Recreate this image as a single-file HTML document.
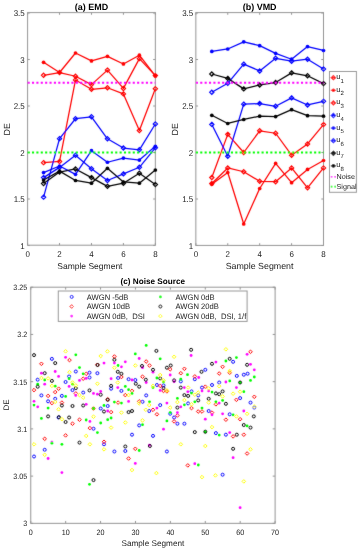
<!DOCTYPE html><html><head><meta charset="utf-8"><style>html,body{margin:0;padding:0;background:#fff;width:359px;height:550px;overflow:hidden}svg{display:block}text{font-family:'Liberation Sans', Arial, sans-serif;fill:#1c1c1c;text-rendering:geometricPrecision}</style></head><body>
<svg width="359" height="550" viewBox="0 0 359 550">
<defs><filter id="bl" filterUnits="userSpaceOnUse" x="0" y="0" width="359" height="550"><feConvolveMatrix order="3" kernelMatrix="0.015 0.06 0.015 0.06 0.70 0.06 0.015 0.06 0.015" edgeMode="duplicate" preserveAlpha="false"/></filter></defs>
<rect width="359" height="550" fill="#fff"/>
<g filter="url(#bl)">
<rect x="27.6" y="12.6" width="127.75" height="232.60" fill="none" stroke="#959595" stroke-width="1.0"/>
<path d="M27.60 245.2v-2.2M27.60 12.6v2.2M59.54 245.2v-2.2M59.54 12.6v2.2M91.47 245.2v-2.2M91.47 12.6v2.2M123.41 245.2v-2.2M123.41 12.6v2.2M155.35 245.2v-2.2M155.35 12.6v2.2M27.6 245.50h2.2M155.35 245.50h-2.2M27.6 199.00h2.2M155.35 199.00h-2.2M27.6 152.50h2.2M155.35 152.50h-2.2M27.6 106.00h2.2M155.35 106.00h-2.2M27.6 59.50h2.2M155.35 59.50h-2.2M27.6 13.00h2.2M155.35 13.00h-2.2" stroke="#959595" stroke-width="1" fill="none"/>
<polyline points="43.57,75.31 59.54,72.52 75.51,76.24 91.47,84.61 107.44,70.10 123.41,88.42 139.38,58.66 155.35,75.59" fill="none" stroke="#ff0000" stroke-width="1.25" stroke-linejoin="round"/>
<path d="M43.57 73.16L45.72 75.31L43.57 77.46L41.42 75.31Z" fill="none" stroke="#ff0000" stroke-width="1.15"/>
<path d="M59.54 70.37L61.69 72.52L59.54 74.67L57.39 72.52Z" fill="none" stroke="#ff0000" stroke-width="1.15"/>
<path d="M75.51 74.09L77.66 76.24L75.51 78.39L73.36 76.24Z" fill="none" stroke="#ff0000" stroke-width="1.15"/>
<path d="M91.47 82.46L93.62 84.61L91.47 86.76L89.32 84.61Z" fill="none" stroke="#ff0000" stroke-width="1.15"/>
<path d="M107.44 67.95L109.59 70.10L107.44 72.25L105.29 70.10Z" fill="none" stroke="#ff0000" stroke-width="1.15"/>
<path d="M123.41 86.27L125.56 88.42L123.41 90.57L121.26 88.42Z" fill="none" stroke="#ff0000" stroke-width="1.15"/>
<path d="M139.38 56.51L141.53 58.66L139.38 60.81L137.23 58.66Z" fill="none" stroke="#ff0000" stroke-width="1.15"/>
<path d="M155.35 73.44L157.50 75.59L155.35 77.74L153.20 75.59Z" fill="none" stroke="#ff0000" stroke-width="1.15"/>
<polyline points="43.57,62.29 59.54,72.52 75.51,52.99 91.47,60.90 107.44,56.34 123.41,63.96 139.38,55.22 155.35,75.96" fill="none" stroke="#ff0000" stroke-width="1.25" stroke-linejoin="round"/>
<circle cx="43.57" cy="62.29" r="1.85" fill="#ff0000"/>
<circle cx="59.54" cy="72.52" r="1.85" fill="#ff0000"/>
<circle cx="75.51" cy="52.99" r="1.85" fill="#ff0000"/>
<circle cx="91.47" cy="60.90" r="1.85" fill="#ff0000"/>
<circle cx="107.44" cy="56.34" r="1.85" fill="#ff0000"/>
<circle cx="123.41" cy="63.96" r="1.85" fill="#ff0000"/>
<circle cx="139.38" cy="55.22" r="1.85" fill="#ff0000"/>
<circle cx="155.35" cy="75.96" r="1.85" fill="#ff0000"/>
<polyline points="43.57,162.64 59.54,161.43 75.51,79.96 91.47,89.26 107.44,87.77 123.41,93.91 139.38,130.46 155.35,88.79" fill="none" stroke="#ff0000" stroke-width="1.25" stroke-linejoin="round"/>
<path d="M43.57 160.49L45.72 162.64L43.57 164.79L41.42 162.64Z" fill="none" stroke="#ff0000" stroke-width="1.15"/>
<path d="M59.54 159.28L61.69 161.43L59.54 163.58L57.39 161.43Z" fill="none" stroke="#ff0000" stroke-width="1.15"/>
<path d="M75.51 77.81L77.66 79.96L75.51 82.11L73.36 79.96Z" fill="none" stroke="#ff0000" stroke-width="1.15"/>
<path d="M91.47 87.11L93.62 89.26L91.47 91.41L89.32 89.26Z" fill="none" stroke="#ff0000" stroke-width="1.15"/>
<path d="M107.44 85.62L109.59 87.77L107.44 89.92L105.29 87.77Z" fill="none" stroke="#ff0000" stroke-width="1.15"/>
<path d="M123.41 91.76L125.56 93.91L123.41 96.06L121.26 93.91Z" fill="none" stroke="#ff0000" stroke-width="1.15"/>
<path d="M139.38 128.31L141.53 130.46L139.38 132.61L137.23 130.46Z" fill="none" stroke="#ff0000" stroke-width="1.15"/>
<path d="M155.35 86.64L157.50 88.79L155.35 90.94L153.20 88.79Z" fill="none" stroke="#ff0000" stroke-width="1.15"/>
<polyline points="43.57,197.14 59.54,138.64 75.51,118.74 91.47,116.79 107.44,138.83 123.41,148.04 139.38,149.80 155.35,124.04" fill="none" stroke="#0000ff" stroke-width="1.25" stroke-linejoin="round"/>
<path d="M43.57 194.99L45.72 197.14L43.57 199.29L41.42 197.14Z" fill="none" stroke="#0000ff" stroke-width="1.15"/>
<path d="M59.54 136.49L61.69 138.64L59.54 140.79L57.39 138.64Z" fill="none" stroke="#0000ff" stroke-width="1.15"/>
<path d="M75.51 116.59L77.66 118.74L75.51 120.89L73.36 118.74Z" fill="none" stroke="#0000ff" stroke-width="1.15"/>
<path d="M91.47 114.64L93.62 116.79L91.47 118.94L89.32 116.79Z" fill="none" stroke="#0000ff" stroke-width="1.15"/>
<path d="M107.44 136.68L109.59 138.83L107.44 140.98L105.29 138.83Z" fill="none" stroke="#0000ff" stroke-width="1.15"/>
<path d="M123.41 145.89L125.56 148.04L123.41 150.19L121.26 148.04Z" fill="none" stroke="#0000ff" stroke-width="1.15"/>
<path d="M139.38 147.65L141.53 149.80L139.38 151.95L137.23 149.80Z" fill="none" stroke="#0000ff" stroke-width="1.15"/>
<path d="M155.35 121.89L157.50 124.04L155.35 126.19L153.20 124.04Z" fill="none" stroke="#0000ff" stroke-width="1.15"/>
<polyline points="43.57,172.59 59.54,165.99 75.51,174.36 91.47,150.64 107.44,162.26 123.41,158.08 139.38,160.03 155.35,146.27" fill="none" stroke="#0000ff" stroke-width="1.25" stroke-linejoin="round"/>
<circle cx="43.57" cy="172.59" r="1.85" fill="#0000ff"/>
<circle cx="59.54" cy="165.99" r="1.85" fill="#0000ff"/>
<circle cx="75.51" cy="174.36" r="1.85" fill="#0000ff"/>
<circle cx="91.47" cy="150.64" r="1.85" fill="#0000ff"/>
<circle cx="107.44" cy="162.26" r="1.85" fill="#0000ff"/>
<circle cx="123.41" cy="158.08" r="1.85" fill="#0000ff"/>
<circle cx="139.38" cy="160.03" r="1.85" fill="#0000ff"/>
<circle cx="155.35" cy="146.27" r="1.85" fill="#0000ff"/>
<polyline points="43.57,177.61 59.54,167.38 75.51,155.29 91.47,168.78 107.44,180.49 123.41,173.89 139.38,167.29 155.35,147.85" fill="none" stroke="#0000ff" stroke-width="1.25" stroke-linejoin="round"/>
<path d="M43.57 175.46L45.72 177.61L43.57 179.76L41.42 177.61Z" fill="none" stroke="#0000ff" stroke-width="1.15"/>
<path d="M59.54 165.23L61.69 167.38L59.54 169.53L57.39 167.38Z" fill="none" stroke="#0000ff" stroke-width="1.15"/>
<path d="M75.51 153.14L77.66 155.29L75.51 157.44L73.36 155.29Z" fill="none" stroke="#0000ff" stroke-width="1.15"/>
<path d="M91.47 166.62L93.62 168.78L91.47 170.93L89.32 168.78Z" fill="none" stroke="#0000ff" stroke-width="1.15"/>
<path d="M107.44 178.34L109.59 180.49L107.44 182.64L105.29 180.49Z" fill="none" stroke="#0000ff" stroke-width="1.15"/>
<path d="M123.41 171.74L125.56 173.89L123.41 176.04L121.26 173.89Z" fill="none" stroke="#0000ff" stroke-width="1.15"/>
<path d="M139.38 165.14L141.53 167.29L139.38 169.44L137.23 167.29Z" fill="none" stroke="#0000ff" stroke-width="1.15"/>
<path d="M155.35 145.70L157.50 147.85L155.35 150.00L153.20 147.85Z" fill="none" stroke="#0000ff" stroke-width="1.15"/>
<polyline points="43.57,183.56 59.54,172.03 75.51,168.96 91.47,177.61 107.44,186.35 123.41,183.19 139.38,173.24 155.35,184.49" fill="none" stroke="#000000" stroke-width="1.25" stroke-linejoin="round"/>
<path d="M43.57 181.41L45.72 183.56L43.57 185.71L41.42 183.56Z" fill="none" stroke="#000000" stroke-width="1.15"/>
<path d="M59.54 169.88L61.69 172.03L59.54 174.18L57.39 172.03Z" fill="none" stroke="#000000" stroke-width="1.15"/>
<path d="M75.51 166.81L77.66 168.96L75.51 171.11L73.36 168.96Z" fill="none" stroke="#000000" stroke-width="1.15"/>
<path d="M91.47 175.46L93.62 177.61L91.47 179.76L89.32 177.61Z" fill="none" stroke="#000000" stroke-width="1.15"/>
<path d="M107.44 184.20L109.59 186.35L107.44 188.50L105.29 186.35Z" fill="none" stroke="#000000" stroke-width="1.15"/>
<path d="M123.41 181.04L125.56 183.19L123.41 185.34L121.26 183.19Z" fill="none" stroke="#000000" stroke-width="1.15"/>
<path d="M139.38 171.09L141.53 173.24L139.38 175.39L137.23 173.24Z" fill="none" stroke="#000000" stroke-width="1.15"/>
<path d="M155.35 182.34L157.50 184.49L155.35 186.64L153.20 184.49Z" fill="none" stroke="#000000" stroke-width="1.15"/>
<polyline points="43.57,180.03 59.54,171.10 75.51,180.49 91.47,183.19 107.44,168.31 123.41,181.98 139.38,183.19 155.35,170.08" fill="none" stroke="#000000" stroke-width="1.25" stroke-linejoin="round"/>
<circle cx="43.57" cy="180.03" r="1.85" fill="#000000"/>
<circle cx="59.54" cy="171.10" r="1.85" fill="#000000"/>
<circle cx="75.51" cy="180.49" r="1.85" fill="#000000"/>
<circle cx="91.47" cy="183.19" r="1.85" fill="#000000"/>
<circle cx="107.44" cy="168.31" r="1.85" fill="#000000"/>
<circle cx="123.41" cy="181.98" r="1.85" fill="#000000"/>
<circle cx="139.38" cy="183.19" r="1.85" fill="#000000"/>
<circle cx="155.35" cy="170.08" r="1.85" fill="#000000"/>
<line x1="27.6" x2="155.35" y1="82.75" y2="82.75" stroke="#ff00ff" stroke-width="2" stroke-dasharray="2.1 2.28"/>
<line x1="27.6" x2="155.35" y1="152.50" y2="152.50" stroke="#00ff00" stroke-width="2" stroke-dasharray="2.1 2.28"/>
<rect x="195.85" y="12.6" width="127.65" height="232.80" fill="none" stroke="#959595" stroke-width="1.0"/>
<path d="M195.85 245.4v-2.2M195.85 12.6v2.2M227.76 245.4v-2.2M227.76 12.6v2.2M259.68 245.4v-2.2M259.68 12.6v2.2M291.59 245.4v-2.2M291.59 12.6v2.2M323.50 245.4v-2.2M323.50 12.6v2.2M195.85 245.50h2.2M323.5 245.50h-2.2M195.85 199.00h2.2M323.5 199.00h-2.2M195.85 152.50h2.2M323.5 152.50h-2.2M195.85 106.00h2.2M323.5 106.00h-2.2M195.85 59.50h2.2M323.5 59.50h-2.2M195.85 13.00h2.2M323.5 13.00h-2.2" stroke="#959595" stroke-width="1" fill="none"/>
<polyline points="211.81,177.52 227.76,134.37 243.72,152.50 259.68,130.83 275.63,133.25 291.59,155.20 307.54,143.94 323.50,124.60" fill="none" stroke="#ff0000" stroke-width="1.25" stroke-linejoin="round"/>
<path d="M211.81 175.37L213.96 177.52L211.81 179.67L209.66 177.52Z" fill="none" stroke="#ff0000" stroke-width="1.15"/>
<path d="M227.76 132.22L229.91 134.37L227.76 136.52L225.61 134.37Z" fill="none" stroke="#ff0000" stroke-width="1.15"/>
<path d="M243.72 150.35L245.87 152.50L243.72 154.65L241.57 152.50Z" fill="none" stroke="#ff0000" stroke-width="1.15"/>
<path d="M259.68 128.68L261.82 130.83L259.68 132.98L257.53 130.83Z" fill="none" stroke="#ff0000" stroke-width="1.15"/>
<path d="M275.63 131.10L277.78 133.25L275.63 135.40L273.48 133.25Z" fill="none" stroke="#ff0000" stroke-width="1.15"/>
<path d="M291.59 153.05L293.74 155.20L291.59 157.35L289.44 155.20Z" fill="none" stroke="#ff0000" stroke-width="1.15"/>
<path d="M307.54 141.79L309.69 143.94L307.54 146.09L305.39 143.94Z" fill="none" stroke="#ff0000" stroke-width="1.15"/>
<path d="M323.50 122.45L325.65 124.60L323.50 126.75L321.35 124.60Z" fill="none" stroke="#ff0000" stroke-width="1.15"/>
<polyline points="211.81,184.21 227.76,172.50 243.72,224.02 259.68,188.49 275.63,163.38 291.59,182.72 307.54,169.43 323.50,160.50" fill="none" stroke="#ff0000" stroke-width="1.25" stroke-linejoin="round"/>
<circle cx="211.81" cy="184.21" r="1.85" fill="#ff0000"/>
<circle cx="227.76" cy="172.50" r="1.85" fill="#ff0000"/>
<circle cx="243.72" cy="224.02" r="1.85" fill="#ff0000"/>
<circle cx="259.68" cy="188.49" r="1.85" fill="#ff0000"/>
<circle cx="275.63" cy="163.38" r="1.85" fill="#ff0000"/>
<circle cx="291.59" cy="182.72" r="1.85" fill="#ff0000"/>
<circle cx="307.54" cy="169.43" r="1.85" fill="#ff0000"/>
<circle cx="323.50" cy="160.50" r="1.85" fill="#ff0000"/>
<polyline points="211.81,183.47 227.76,167.94 243.72,171.75 259.68,181.33 275.63,181.70 291.59,167.94 307.54,187.84 323.50,167.94" fill="none" stroke="#ff0000" stroke-width="1.25" stroke-linejoin="round"/>
<path d="M211.81 181.32L213.96 183.47L211.81 185.62L209.66 183.47Z" fill="none" stroke="#ff0000" stroke-width="1.15"/>
<path d="M227.76 165.79L229.91 167.94L227.76 170.09L225.61 167.94Z" fill="none" stroke="#ff0000" stroke-width="1.15"/>
<path d="M243.72 169.60L245.87 171.75L243.72 173.90L241.57 171.75Z" fill="none" stroke="#ff0000" stroke-width="1.15"/>
<path d="M259.68 179.18L261.82 181.33L259.68 183.48L257.53 181.33Z" fill="none" stroke="#ff0000" stroke-width="1.15"/>
<path d="M275.63 179.55L277.78 181.70L275.63 183.85L273.48 181.70Z" fill="none" stroke="#ff0000" stroke-width="1.15"/>
<path d="M291.59 165.79L293.74 167.94L291.59 170.09L289.44 167.94Z" fill="none" stroke="#ff0000" stroke-width="1.15"/>
<path d="M307.54 185.69L309.69 187.84L307.54 189.99L305.39 187.84Z" fill="none" stroke="#ff0000" stroke-width="1.15"/>
<path d="M323.50 165.79L325.65 167.94L323.50 170.09L321.35 167.94Z" fill="none" stroke="#ff0000" stroke-width="1.15"/>
<polyline points="211.81,92.33 227.76,83.31 243.72,64.15 259.68,70.94 275.63,58.29 291.59,61.17 307.54,59.22 323.50,68.99" fill="none" stroke="#0000ff" stroke-width="1.25" stroke-linejoin="round"/>
<path d="M211.81 90.18L213.96 92.33L211.81 94.48L209.66 92.33Z" fill="none" stroke="#0000ff" stroke-width="1.15"/>
<path d="M227.76 81.16L229.91 83.31L227.76 85.46L225.61 83.31Z" fill="none" stroke="#0000ff" stroke-width="1.15"/>
<path d="M243.72 62.00L245.87 64.15L243.72 66.30L241.57 64.15Z" fill="none" stroke="#0000ff" stroke-width="1.15"/>
<path d="M259.68 68.79L261.82 70.94L259.68 73.09L257.53 70.94Z" fill="none" stroke="#0000ff" stroke-width="1.15"/>
<path d="M275.63 56.14L277.78 58.29L275.63 60.44L273.48 58.29Z" fill="none" stroke="#0000ff" stroke-width="1.15"/>
<path d="M291.59 59.02L293.74 61.17L291.59 63.32L289.44 61.17Z" fill="none" stroke="#0000ff" stroke-width="1.15"/>
<path d="M307.54 57.07L309.69 59.22L307.54 61.37L305.39 59.22Z" fill="none" stroke="#0000ff" stroke-width="1.15"/>
<path d="M323.50 66.84L325.65 68.99L323.50 71.14L321.35 68.99Z" fill="none" stroke="#0000ff" stroke-width="1.15"/>
<polyline points="211.81,51.41 227.76,48.99 243.72,41.83 259.68,45.64 275.63,53.36 291.59,59.22 307.54,46.57 323.50,50.48" fill="none" stroke="#0000ff" stroke-width="1.25" stroke-linejoin="round"/>
<circle cx="211.81" cy="51.41" r="1.85" fill="#0000ff"/>
<circle cx="227.76" cy="48.99" r="1.85" fill="#0000ff"/>
<circle cx="243.72" cy="41.83" r="1.85" fill="#0000ff"/>
<circle cx="259.68" cy="45.64" r="1.85" fill="#0000ff"/>
<circle cx="275.63" cy="53.36" r="1.85" fill="#0000ff"/>
<circle cx="291.59" cy="59.22" r="1.85" fill="#0000ff"/>
<circle cx="307.54" cy="46.57" r="1.85" fill="#0000ff"/>
<circle cx="323.50" cy="50.48" r="1.85" fill="#0000ff"/>
<polyline points="211.81,124.41 227.76,156.22 243.72,104.14 259.68,103.58 275.63,106.28 291.59,97.91 307.54,104.98 323.50,101.35" fill="none" stroke="#0000ff" stroke-width="1.25" stroke-linejoin="round"/>
<path d="M211.81 122.26L213.96 124.41L211.81 126.56L209.66 124.41Z" fill="none" stroke="#0000ff" stroke-width="1.15"/>
<path d="M227.76 154.07L229.91 156.22L227.76 158.37L225.61 156.22Z" fill="none" stroke="#0000ff" stroke-width="1.15"/>
<path d="M243.72 101.99L245.87 104.14L243.72 106.29L241.57 104.14Z" fill="none" stroke="#0000ff" stroke-width="1.15"/>
<path d="M259.68 101.43L261.82 103.58L259.68 105.73L257.53 103.58Z" fill="none" stroke="#0000ff" stroke-width="1.15"/>
<path d="M275.63 104.13L277.78 106.28L275.63 108.43L273.48 106.28Z" fill="none" stroke="#0000ff" stroke-width="1.15"/>
<path d="M291.59 95.76L293.74 97.91L291.59 100.06L289.44 97.91Z" fill="none" stroke="#0000ff" stroke-width="1.15"/>
<path d="M307.54 102.83L309.69 104.98L307.54 107.13L305.39 104.98Z" fill="none" stroke="#0000ff" stroke-width="1.15"/>
<path d="M323.50 99.20L325.65 101.35L323.50 103.50L321.35 101.35Z" fill="none" stroke="#0000ff" stroke-width="1.15"/>
<polyline points="211.81,74.01 227.76,78.38 243.72,88.89 259.68,84.98 275.63,82.56 291.59,72.89 307.54,75.77 323.50,83.59" fill="none" stroke="#000000" stroke-width="1.25" stroke-linejoin="round"/>
<path d="M211.81 71.86L213.96 74.01L211.81 76.16L209.66 74.01Z" fill="none" stroke="#000000" stroke-width="1.15"/>
<path d="M227.76 76.23L229.91 78.38L227.76 80.53L225.61 78.38Z" fill="none" stroke="#000000" stroke-width="1.15"/>
<path d="M243.72 86.74L245.87 88.89L243.72 91.04L241.57 88.89Z" fill="none" stroke="#000000" stroke-width="1.15"/>
<path d="M259.68 82.83L261.82 84.98L259.68 87.13L257.53 84.98Z" fill="none" stroke="#000000" stroke-width="1.15"/>
<path d="M275.63 80.41L277.78 82.56L275.63 84.71L273.48 82.56Z" fill="none" stroke="#000000" stroke-width="1.15"/>
<path d="M291.59 70.74L293.74 72.89L291.59 75.04L289.44 72.89Z" fill="none" stroke="#000000" stroke-width="1.15"/>
<path d="M307.54 73.62L309.69 75.77L307.54 77.92L305.39 75.77Z" fill="none" stroke="#000000" stroke-width="1.15"/>
<path d="M323.50 81.44L325.65 83.59L323.50 85.74L321.35 83.59Z" fill="none" stroke="#000000" stroke-width="1.15"/>
<polyline points="211.81,115.30 227.76,123.48 243.72,119.48 259.68,116.14 275.63,116.60 291.59,109.63 307.54,115.67 323.50,116.14" fill="none" stroke="#000000" stroke-width="1.25" stroke-linejoin="round"/>
<circle cx="211.81" cy="115.30" r="1.85" fill="#000000"/>
<circle cx="227.76" cy="123.48" r="1.85" fill="#000000"/>
<circle cx="243.72" cy="119.48" r="1.85" fill="#000000"/>
<circle cx="259.68" cy="116.14" r="1.85" fill="#000000"/>
<circle cx="275.63" cy="116.60" r="1.85" fill="#000000"/>
<circle cx="291.59" cy="109.63" r="1.85" fill="#000000"/>
<circle cx="307.54" cy="115.67" r="1.85" fill="#000000"/>
<circle cx="323.50" cy="116.14" r="1.85" fill="#000000"/>
<line x1="195.85" x2="323.5" y1="82.75" y2="82.75" stroke="#ff00ff" stroke-width="2" stroke-dasharray="2.1 2.28"/>
<line x1="195.85" x2="323.5" y1="152.50" y2="152.50" stroke="#00ff00" stroke-width="2" stroke-dasharray="2.1 2.28"/>
<rect x="329.5" y="71.5" width="26.899999999999977" height="120.80000000000001" fill="#fff" stroke="#959595" stroke-width="1"/>
<line x1="330.8" x2="336" y1="77.70" y2="77.70" stroke="#ff0000" stroke-width="1"/>
<path d="M333.40 75.65L335.45 77.70L333.40 79.75L331.35 77.70Z" fill="none" stroke="#ff0000" stroke-width="1.2"/>
<line x1="330.8" x2="336" y1="90.30" y2="90.30" stroke="#ff0000" stroke-width="1"/>
<circle cx="333.40" cy="90.30" r="1.8" fill="#ff0000"/>
<line x1="330.8" x2="336" y1="102.90" y2="102.90" stroke="#ff0000" stroke-width="1"/>
<path d="M333.40 100.85L335.45 102.90L333.40 104.95L331.35 102.90Z" fill="none" stroke="#ff0000" stroke-width="1.2"/>
<line x1="330.8" x2="336" y1="115.50" y2="115.50" stroke="#0000ff" stroke-width="1"/>
<path d="M333.40 113.45L335.45 115.50L333.40 117.55L331.35 115.50Z" fill="none" stroke="#0000ff" stroke-width="1.2"/>
<line x1="330.8" x2="336" y1="128.10" y2="128.10" stroke="#0000ff" stroke-width="1"/>
<circle cx="333.40" cy="128.10" r="1.8" fill="#0000ff"/>
<line x1="330.8" x2="336" y1="140.70" y2="140.70" stroke="#0000ff" stroke-width="1"/>
<path d="M333.40 138.65L335.45 140.70L333.40 142.75L331.35 140.70Z" fill="none" stroke="#0000ff" stroke-width="1.2"/>
<line x1="330.8" x2="336" y1="153.30" y2="153.30" stroke="#000000" stroke-width="1"/>
<path d="M333.40 151.25L335.45 153.30L333.40 155.35L331.35 153.30Z" fill="none" stroke="#000000" stroke-width="1.2"/>
<line x1="330.8" x2="336" y1="165.90" y2="165.90" stroke="#000000" stroke-width="1"/>
<circle cx="333.40" cy="165.90" r="1.8" fill="#000000"/>
<line x1="330.8" x2="336.2" y1="176.80" y2="176.80" stroke="#ff00ff" stroke-width="1.6" stroke-dasharray="1.6 2"/>
<line x1="330.8" x2="336.2" y1="186.60" y2="186.60" stroke="#00ff00" stroke-width="1.6" stroke-dasharray="1.6 2"/>
<rect x="30.75" y="287.2" width="244.35" height="236.15" fill="none" stroke="#959595" stroke-width="1.0"/>
<path d="M30.75 523.35v-2.4M30.75 287.2v2.4M65.66 523.35v-2.4M65.66 287.2v2.4M100.56 523.35v-2.4M100.56 287.2v2.4M135.47 523.35v-2.4M135.47 287.2v2.4M170.38 523.35v-2.4M170.38 287.2v2.4M205.29 523.35v-2.4M205.29 287.2v2.4M240.19 523.35v-2.4M240.19 287.2v2.4M275.10 523.35v-2.4M275.10 287.2v2.4M30.75 523.35h2.4M275.1 523.35h-2.4M30.75 476.12h2.4M275.1 476.12h-2.4M30.75 428.89h2.4M275.1 428.89h-2.4M30.75 381.66h2.4M275.1 381.66h-2.4M30.75 334.43h2.4M275.1 334.43h-2.4M30.75 287.20h2.4M275.1 287.20h-2.4" stroke="#959595" stroke-width="1" fill="none"/>
<circle cx="51.90" cy="358.90" r="1.5" fill="none" stroke="#0000ff" stroke-width="0.98"/>
<circle cx="75.80" cy="371.50" r="1.5" fill="none" stroke="#0000ff" stroke-width="0.98"/>
<circle cx="89.50" cy="372.70" r="1.5" fill="none" stroke="#0000ff" stroke-width="0.98"/>
<circle cx="37.70" cy="379.70" r="1.5" fill="none" stroke="#0000ff" stroke-width="0.98"/>
<circle cx="69.10" cy="376.40" r="1.5" fill="none" stroke="#0000ff" stroke-width="0.98"/>
<circle cx="65.60" cy="382.00" r="1.5" fill="none" stroke="#0000ff" stroke-width="0.98"/>
<circle cx="72.50" cy="390.10" r="1.5" fill="none" stroke="#0000ff" stroke-width="0.98"/>
<circle cx="89.50" cy="377.50" r="1.5" fill="none" stroke="#0000ff" stroke-width="0.98"/>
<circle cx="41.40" cy="395.40" r="1.5" fill="none" stroke="#0000ff" stroke-width="0.98"/>
<circle cx="61.90" cy="395.90" r="1.5" fill="none" stroke="#0000ff" stroke-width="0.98"/>
<circle cx="83.20" cy="392.60" r="1.5" fill="none" stroke="#0000ff" stroke-width="0.98"/>
<circle cx="48.10" cy="401.30" r="1.5" fill="none" stroke="#0000ff" stroke-width="0.98"/>
<circle cx="55.20" cy="398.80" r="1.5" fill="none" stroke="#0000ff" stroke-width="0.98"/>
<circle cx="58.60" cy="417.50" r="1.5" fill="none" stroke="#0000ff" stroke-width="0.98"/>
<circle cx="44.70" cy="449.80" r="1.5" fill="none" stroke="#0000ff" stroke-width="0.98"/>
<circle cx="34.00" cy="456.50" r="1.5" fill="none" stroke="#0000ff" stroke-width="0.98"/>
<circle cx="97.40" cy="373.20" r="1.5" fill="none" stroke="#0000ff" stroke-width="0.98"/>
<circle cx="118.10" cy="378.00" r="1.5" fill="none" stroke="#0000ff" stroke-width="0.98"/>
<circle cx="128.60" cy="379.20" r="1.5" fill="none" stroke="#0000ff" stroke-width="0.98"/>
<circle cx="135.30" cy="380.00" r="1.5" fill="none" stroke="#0000ff" stroke-width="0.98"/>
<circle cx="111.10" cy="388.70" r="1.5" fill="none" stroke="#0000ff" stroke-width="0.98"/>
<circle cx="121.40" cy="390.90" r="1.5" fill="none" stroke="#0000ff" stroke-width="0.98"/>
<circle cx="146.20" cy="395.40" r="1.5" fill="none" stroke="#0000ff" stroke-width="0.98"/>
<circle cx="142.50" cy="401.80" r="1.5" fill="none" stroke="#0000ff" stroke-width="0.98"/>
<circle cx="107.70" cy="406.00" r="1.5" fill="none" stroke="#0000ff" stroke-width="0.98"/>
<circle cx="100.70" cy="408.50" r="1.5" fill="none" stroke="#0000ff" stroke-width="0.98"/>
<circle cx="149.20" cy="411.00" r="1.5" fill="none" stroke="#0000ff" stroke-width="0.98"/>
<circle cx="93.50" cy="428.70" r="1.5" fill="none" stroke="#0000ff" stroke-width="0.98"/>
<circle cx="139.20" cy="425.40" r="1.5" fill="none" stroke="#0000ff" stroke-width="0.98"/>
<circle cx="132.00" cy="434.70" r="1.5" fill="none" stroke="#0000ff" stroke-width="0.98"/>
<circle cx="104.00" cy="444.30" r="1.5" fill="none" stroke="#0000ff" stroke-width="0.98"/>
<circle cx="114.40" cy="451.50" r="1.5" fill="none" stroke="#0000ff" stroke-width="0.98"/>
<circle cx="125.30" cy="451.00" r="1.5" fill="none" stroke="#0000ff" stroke-width="0.98"/>
<circle cx="205.30" cy="369.80" r="1.5" fill="none" stroke="#0000ff" stroke-width="0.98"/>
<circle cx="194.80" cy="379.20" r="1.5" fill="none" stroke="#0000ff" stroke-width="0.98"/>
<circle cx="180.80" cy="381.40" r="1.5" fill="none" stroke="#0000ff" stroke-width="0.98"/>
<circle cx="156.90" cy="385.00" r="1.5" fill="none" stroke="#0000ff" stroke-width="0.98"/>
<circle cx="163.50" cy="385.40" r="1.5" fill="none" stroke="#0000ff" stroke-width="0.98"/>
<circle cx="191.50" cy="391.40" r="1.5" fill="none" stroke="#0000ff" stroke-width="0.98"/>
<circle cx="198.20" cy="395.40" r="1.5" fill="none" stroke="#0000ff" stroke-width="0.98"/>
<circle cx="202.00" cy="387.60" r="1.5" fill="none" stroke="#0000ff" stroke-width="0.98"/>
<circle cx="188.10" cy="403.40" r="1.5" fill="none" stroke="#0000ff" stroke-width="0.98"/>
<circle cx="160.20" cy="405.10" r="1.5" fill="none" stroke="#0000ff" stroke-width="0.98"/>
<circle cx="208.70" cy="411.00" r="1.5" fill="none" stroke="#0000ff" stroke-width="0.98"/>
<circle cx="174.10" cy="417.50" r="1.5" fill="none" stroke="#0000ff" stroke-width="0.98"/>
<circle cx="170.20" cy="413.70" r="1.5" fill="none" stroke="#0000ff" stroke-width="0.98"/>
<circle cx="177.40" cy="423.70" r="1.5" fill="none" stroke="#0000ff" stroke-width="0.98"/>
<circle cx="184.40" cy="423.70" r="1.5" fill="none" stroke="#0000ff" stroke-width="0.98"/>
<circle cx="153.00" cy="435.90" r="1.5" fill="none" stroke="#0000ff" stroke-width="0.98"/>
<circle cx="166.90" cy="451.50" r="1.5" fill="none" stroke="#0000ff" stroke-width="0.98"/>
<circle cx="233.10" cy="361.80" r="1.5" fill="none" stroke="#0000ff" stroke-width="0.98"/>
<circle cx="236.80" cy="375.90" r="1.5" fill="none" stroke="#0000ff" stroke-width="0.98"/>
<circle cx="243.80" cy="374.70" r="1.5" fill="none" stroke="#0000ff" stroke-width="0.98"/>
<circle cx="247.60" cy="373.70" r="1.5" fill="none" stroke="#0000ff" stroke-width="0.98"/>
<circle cx="219.20" cy="382.50" r="1.5" fill="none" stroke="#0000ff" stroke-width="0.98"/>
<circle cx="212.00" cy="385.00" r="1.5" fill="none" stroke="#0000ff" stroke-width="0.98"/>
<circle cx="240.10" cy="398.10" r="1.5" fill="none" stroke="#0000ff" stroke-width="0.98"/>
<circle cx="250.50" cy="402.60" r="1.5" fill="none" stroke="#0000ff" stroke-width="0.98"/>
<circle cx="254.30" cy="407.60" r="1.5" fill="none" stroke="#0000ff" stroke-width="0.98"/>
<circle cx="229.70" cy="414.30" r="1.5" fill="none" stroke="#0000ff" stroke-width="0.98"/>
<circle cx="215.90" cy="433.10" r="1.5" fill="none" stroke="#0000ff" stroke-width="0.98"/>
<circle cx="225.90" cy="434.70" r="1.5" fill="none" stroke="#0000ff" stroke-width="0.98"/>
<circle cx="222.60" cy="474.70" r="1.5" fill="none" stroke="#0000ff" stroke-width="0.98"/>
<path d="M41.40 362.00L43.20 363.80L41.40 365.60L39.60 363.80Z" fill="none" stroke="#ff0000" stroke-width="1.0"/>
<path d="M69.50 358.30L71.30 360.10L69.50 361.90L67.70 360.10Z" fill="none" stroke="#ff0000" stroke-width="1.0"/>
<path d="M86.20 372.00L88.00 373.80L86.20 375.60L84.40 373.80Z" fill="none" stroke="#ff0000" stroke-width="1.0"/>
<path d="M34.00 388.30L35.80 390.10L34.00 391.90L32.20 390.10Z" fill="none" stroke="#ff0000" stroke-width="1.0"/>
<path d="M83.20 376.90L85.00 378.70L83.20 380.50L81.40 378.70Z" fill="none" stroke="#ff0000" stroke-width="1.0"/>
<path d="M58.60 386.90L60.40 388.70L58.60 390.50L56.80 388.70Z" fill="none" stroke="#ff0000" stroke-width="1.0"/>
<path d="M55.20 390.30L57.00 392.10L55.20 393.90L53.40 392.10Z" fill="none" stroke="#ff0000" stroke-width="1.0"/>
<path d="M48.10 394.10L49.90 395.90L48.10 397.70L46.30 395.90Z" fill="none" stroke="#ff0000" stroke-width="1.0"/>
<path d="M75.80 391.60L77.60 393.40L75.80 395.20L74.00 393.40Z" fill="none" stroke="#ff0000" stroke-width="1.0"/>
<path d="M51.90 401.30L53.70 403.10L51.90 404.90L50.10 403.10Z" fill="none" stroke="#ff0000" stroke-width="1.0"/>
<path d="M61.90 400.80L63.70 402.60L61.90 404.40L60.10 402.60Z" fill="none" stroke="#ff0000" stroke-width="1.0"/>
<path d="M72.50 421.90L74.30 423.70L72.50 425.50L70.70 423.70Z" fill="none" stroke="#ff0000" stroke-width="1.0"/>
<path d="M79.50 417.90L81.30 419.70L79.50 421.50L77.70 419.70Z" fill="none" stroke="#ff0000" stroke-width="1.0"/>
<path d="M89.90 426.30L91.70 428.10L89.90 429.90L88.10 428.10Z" fill="none" stroke="#ff0000" stroke-width="1.0"/>
<path d="M65.60 433.60L67.40 435.40L65.60 437.20L63.80 435.40Z" fill="none" stroke="#ff0000" stroke-width="1.0"/>
<path d="M44.70 437.00L46.50 438.80L44.70 440.60L42.90 438.80Z" fill="none" stroke="#ff0000" stroke-width="1.0"/>
<path d="M114.40 354.70L116.20 356.50L114.40 358.30L112.60 356.50Z" fill="none" stroke="#ff0000" stroke-width="1.0"/>
<path d="M97.40 363.00L99.20 364.80L97.40 366.60L95.60 364.80Z" fill="none" stroke="#ff0000" stroke-width="1.0"/>
<path d="M146.20 359.70L148.00 361.50L146.20 363.30L144.40 361.50Z" fill="none" stroke="#ff0000" stroke-width="1.0"/>
<path d="M149.50 363.70L151.30 365.50L149.50 367.30L147.70 365.50Z" fill="none" stroke="#ff0000" stroke-width="1.0"/>
<path d="M121.40 375.20L123.20 377.00L121.40 378.80L119.60 377.00Z" fill="none" stroke="#ff0000" stroke-width="1.0"/>
<path d="M142.50 374.90L144.30 376.70L142.50 378.50L140.70 376.70Z" fill="none" stroke="#ff0000" stroke-width="1.0"/>
<path d="M132.00 389.10L133.80 390.90L132.00 392.70L130.20 390.90Z" fill="none" stroke="#ff0000" stroke-width="1.0"/>
<path d="M125.30 393.30L127.10 395.10L125.30 396.90L123.50 395.10Z" fill="none" stroke="#ff0000" stroke-width="1.0"/>
<path d="M107.70 397.50L109.50 399.30L107.70 401.10L105.90 399.30Z" fill="none" stroke="#ff0000" stroke-width="1.0"/>
<path d="M118.10 400.80L119.90 402.60L118.10 404.40L116.30 402.60Z" fill="none" stroke="#ff0000" stroke-width="1.0"/>
<path d="M139.20 399.60L141.00 401.40L139.20 403.20L137.40 401.40Z" fill="none" stroke="#ff0000" stroke-width="1.0"/>
<path d="M93.50 406.70L95.30 408.50L93.50 410.30L91.70 408.50Z" fill="none" stroke="#ff0000" stroke-width="1.0"/>
<path d="M111.10 410.30L112.90 412.10L111.10 413.90L109.30 412.10Z" fill="none" stroke="#ff0000" stroke-width="1.0"/>
<path d="M104.00 440.00L105.80 441.80L104.00 443.60L102.20 441.80Z" fill="none" stroke="#ff0000" stroke-width="1.0"/>
<path d="M135.30 447.00L137.10 448.80L135.30 450.60L133.50 448.80Z" fill="none" stroke="#ff0000" stroke-width="1.0"/>
<path d="M128.60 456.70L130.40 458.50L128.60 460.30L126.80 458.50Z" fill="none" stroke="#ff0000" stroke-width="1.0"/>
<path d="M170.20 367.50L172.00 369.30L170.20 371.10L168.40 369.30Z" fill="none" stroke="#ff0000" stroke-width="1.0"/>
<path d="M184.40 367.00L186.20 368.80L184.40 370.60L182.60 368.80Z" fill="none" stroke="#ff0000" stroke-width="1.0"/>
<path d="M180.80 371.40L182.60 373.20L180.80 375.00L179.00 373.20Z" fill="none" stroke="#ff0000" stroke-width="1.0"/>
<path d="M194.80 374.60L196.60 376.40L194.80 378.20L193.00 376.40Z" fill="none" stroke="#ff0000" stroke-width="1.0"/>
<path d="M160.20 384.10L162.00 385.90L160.20 387.70L158.40 385.90Z" fill="none" stroke="#ff0000" stroke-width="1.0"/>
<path d="M163.50 389.10L165.30 390.90L163.50 392.70L161.70 390.90Z" fill="none" stroke="#ff0000" stroke-width="1.0"/>
<path d="M166.90 389.60L168.70 391.40L166.90 393.20L165.10 391.40Z" fill="none" stroke="#ff0000" stroke-width="1.0"/>
<path d="M205.30 384.90L207.10 386.70L205.30 388.50L203.50 386.70Z" fill="none" stroke="#ff0000" stroke-width="1.0"/>
<path d="M191.50 406.30L193.30 408.10L191.50 409.90L189.70 408.10Z" fill="none" stroke="#ff0000" stroke-width="1.0"/>
<path d="M153.00 408.00L154.80 409.80L153.00 411.60L151.20 409.80Z" fill="none" stroke="#ff0000" stroke-width="1.0"/>
<path d="M156.90 412.50L158.70 414.30L156.90 416.10L155.10 414.30Z" fill="none" stroke="#ff0000" stroke-width="1.0"/>
<path d="M198.20 409.70L200.00 411.50L198.20 413.30L196.40 411.50Z" fill="none" stroke="#ff0000" stroke-width="1.0"/>
<path d="M202.00 409.70L203.80 411.50L202.00 413.30L200.20 411.50Z" fill="none" stroke="#ff0000" stroke-width="1.0"/>
<path d="M177.40 413.70L179.20 415.50L177.40 417.30L175.60 415.50Z" fill="none" stroke="#ff0000" stroke-width="1.0"/>
<path d="M174.10 419.60L175.90 421.40L174.10 423.20L172.30 421.40Z" fill="none" stroke="#ff0000" stroke-width="1.0"/>
<path d="M187.80 463.60L189.60 465.40L187.80 467.20L186.00 465.40Z" fill="none" stroke="#ff0000" stroke-width="1.0"/>
<path d="M222.60 365.00L224.40 366.80L222.60 368.60L220.80 366.80Z" fill="none" stroke="#ff0000" stroke-width="1.0"/>
<path d="M250.50 350.00L252.30 351.80L250.50 353.60L248.70 351.80Z" fill="none" stroke="#ff0000" stroke-width="1.0"/>
<path d="M229.70 370.90L231.50 372.70L229.70 374.50L227.90 372.70Z" fill="none" stroke="#ff0000" stroke-width="1.0"/>
<path d="M219.20 371.70L221.00 373.50L219.20 375.30L217.40 373.50Z" fill="none" stroke="#ff0000" stroke-width="1.0"/>
<path d="M254.30 395.00L256.10 396.80L254.30 398.60L252.50 396.80Z" fill="none" stroke="#ff0000" stroke-width="1.0"/>
<path d="M236.40 398.00L238.20 399.80L236.40 401.60L234.60 399.80Z" fill="none" stroke="#ff0000" stroke-width="1.0"/>
<path d="M215.90 402.50L217.70 404.30L215.90 406.10L214.10 404.30Z" fill="none" stroke="#ff0000" stroke-width="1.0"/>
<path d="M212.00 410.80L213.80 412.60L212.00 414.40L210.20 412.60Z" fill="none" stroke="#ff0000" stroke-width="1.0"/>
<path d="M240.10 417.40L241.90 419.20L240.10 421.00L238.30 419.20Z" fill="none" stroke="#ff0000" stroke-width="1.0"/>
<path d="M225.90 417.90L227.70 419.70L225.90 421.50L224.10 419.70Z" fill="none" stroke="#ff0000" stroke-width="1.0"/>
<path d="M233.10 434.60L234.90 436.40L233.10 438.20L231.30 436.40Z" fill="none" stroke="#ff0000" stroke-width="1.0"/>
<path d="M243.80 432.90L245.60 434.70L243.80 436.50L242.00 434.70Z" fill="none" stroke="#ff0000" stroke-width="1.0"/>
<path d="M247.10 451.70L248.90 453.50L247.10 455.30L245.30 453.50Z" fill="none" stroke="#ff0000" stroke-width="1.0"/>
<circle cx="65.60" cy="357.30" r="1.4" fill="#ff00ff"/>
<circle cx="55.20" cy="371.50" r="1.4" fill="#ff00ff"/>
<circle cx="41.40" cy="373.20" r="1.4" fill="#ff00ff"/>
<circle cx="44.70" cy="384.20" r="1.4" fill="#ff00ff"/>
<circle cx="58.60" cy="376.40" r="1.4" fill="#ff00ff"/>
<circle cx="69.10" cy="386.40" r="1.4" fill="#ff00ff"/>
<circle cx="79.50" cy="380.40" r="1.4" fill="#ff00ff"/>
<circle cx="86.20" cy="378.40" r="1.4" fill="#ff00ff"/>
<circle cx="75.80" cy="395.40" r="1.4" fill="#ff00ff"/>
<circle cx="34.00" cy="401.30" r="1.4" fill="#ff00ff"/>
<circle cx="37.70" cy="406.80" r="1.4" fill="#ff00ff"/>
<circle cx="86.20" cy="404.30" r="1.4" fill="#ff00ff"/>
<circle cx="89.90" cy="421.40" r="1.4" fill="#ff00ff"/>
<circle cx="51.90" cy="442.10" r="1.4" fill="#ff00ff"/>
<circle cx="48.10" cy="458.50" r="1.4" fill="#ff00ff"/>
<circle cx="61.90" cy="472.60" r="1.4" fill="#ff00ff"/>
<circle cx="104.00" cy="363.10" r="1.4" fill="#ff00ff"/>
<circle cx="114.40" cy="363.10" r="1.4" fill="#ff00ff"/>
<circle cx="121.40" cy="366.80" r="1.4" fill="#ff00ff"/>
<circle cx="125.30" cy="361.80" r="1.4" fill="#ff00ff"/>
<circle cx="139.20" cy="358.50" r="1.4" fill="#ff00ff"/>
<circle cx="142.50" cy="367.70" r="1.4" fill="#ff00ff"/>
<circle cx="111.10" cy="378.70" r="1.4" fill="#ff00ff"/>
<circle cx="132.00" cy="380.00" r="1.4" fill="#ff00ff"/>
<circle cx="146.20" cy="382.50" r="1.4" fill="#ff00ff"/>
<circle cx="117.80" cy="387.60" r="1.4" fill="#ff00ff"/>
<circle cx="93.50" cy="393.40" r="1.4" fill="#ff00ff"/>
<circle cx="97.40" cy="394.20" r="1.4" fill="#ff00ff"/>
<circle cx="100.70" cy="391.40" r="1.4" fill="#ff00ff"/>
<circle cx="128.60" cy="401.40" r="1.4" fill="#ff00ff"/>
<circle cx="107.70" cy="411.00" r="1.4" fill="#ff00ff"/>
<circle cx="149.50" cy="445.10" r="1.4" fill="#ff00ff"/>
<circle cx="135.30" cy="463.40" r="1.4" fill="#ff00ff"/>
<circle cx="191.10" cy="355.50" r="1.4" fill="#ff00ff"/>
<circle cx="153.00" cy="372.20" r="1.4" fill="#ff00ff"/>
<circle cx="170.20" cy="375.00" r="1.4" fill="#ff00ff"/>
<circle cx="198.70" cy="377.50" r="1.4" fill="#ff00ff"/>
<circle cx="174.10" cy="381.70" r="1.4" fill="#ff00ff"/>
<circle cx="160.20" cy="390.40" r="1.4" fill="#ff00ff"/>
<circle cx="184.40" cy="387.60" r="1.4" fill="#ff00ff"/>
<circle cx="187.80" cy="391.70" r="1.4" fill="#ff00ff"/>
<circle cx="202.00" cy="390.90" r="1.4" fill="#ff00ff"/>
<circle cx="208.70" cy="390.90" r="1.4" fill="#ff00ff"/>
<circle cx="166.90" cy="403.10" r="1.4" fill="#ff00ff"/>
<circle cx="180.80" cy="406.80" r="1.4" fill="#ff00ff"/>
<circle cx="156.90" cy="408.10" r="1.4" fill="#ff00ff"/>
<circle cx="177.40" cy="412.60" r="1.4" fill="#ff00ff"/>
<circle cx="205.30" cy="419.20" r="1.4" fill="#ff00ff"/>
<circle cx="163.50" cy="429.20" r="1.4" fill="#ff00ff"/>
<circle cx="194.80" cy="463.70" r="1.4" fill="#ff00ff"/>
<circle cx="215.90" cy="362.10" r="1.4" fill="#ff00ff"/>
<circle cx="247.10" cy="354.30" r="1.4" fill="#ff00ff"/>
<circle cx="250.50" cy="364.30" r="1.4" fill="#ff00ff"/>
<circle cx="254.30" cy="369.80" r="1.4" fill="#ff00ff"/>
<circle cx="225.90" cy="382.00" r="1.4" fill="#ff00ff"/>
<circle cx="236.40" cy="387.60" r="1.4" fill="#ff00ff"/>
<circle cx="219.20" cy="403.10" r="1.4" fill="#ff00ff"/>
<circle cx="243.80" cy="411.00" r="1.4" fill="#ff00ff"/>
<circle cx="222.60" cy="413.80" r="1.4" fill="#ff00ff"/>
<circle cx="212.00" cy="414.80" r="1.4" fill="#ff00ff"/>
<circle cx="229.70" cy="432.60" r="1.4" fill="#ff00ff"/>
<circle cx="233.10" cy="457.70" r="1.4" fill="#ff00ff"/>
<circle cx="240.10" cy="507.70" r="1.4" fill="#ff00ff"/>
<circle cx="75.80" cy="354.80" r="1.4" fill="#00ff00"/>
<circle cx="79.50" cy="367.60" r="1.4" fill="#00ff00"/>
<circle cx="83.20" cy="373.80" r="1.4" fill="#00ff00"/>
<circle cx="44.70" cy="380.00" r="1.4" fill="#00ff00"/>
<circle cx="37.70" cy="384.20" r="1.4" fill="#00ff00"/>
<circle cx="55.20" cy="386.20" r="1.4" fill="#00ff00"/>
<circle cx="69.10" cy="378.70" r="1.4" fill="#00ff00"/>
<circle cx="72.50" cy="384.20" r="1.4" fill="#00ff00"/>
<circle cx="65.60" cy="396.40" r="1.4" fill="#00ff00"/>
<circle cx="34.00" cy="405.10" r="1.4" fill="#00ff00"/>
<circle cx="48.10" cy="408.10" r="1.4" fill="#00ff00"/>
<circle cx="41.40" cy="418.40" r="1.4" fill="#00ff00"/>
<circle cx="86.20" cy="420.00" r="1.4" fill="#00ff00"/>
<circle cx="51.90" cy="443.20" r="1.4" fill="#00ff00"/>
<circle cx="61.90" cy="444.30" r="1.4" fill="#00ff00"/>
<circle cx="89.50" cy="484.30" r="1.4" fill="#00ff00"/>
<circle cx="118.10" cy="365.50" r="1.4" fill="#00ff00"/>
<circle cx="146.20" cy="345.40" r="1.4" fill="#00ff00"/>
<circle cx="135.30" cy="353.90" r="1.4" fill="#00ff00"/>
<circle cx="125.30" cy="386.40" r="1.4" fill="#00ff00"/>
<circle cx="128.60" cy="389.70" r="1.4" fill="#00ff00"/>
<circle cx="132.00" cy="393.40" r="1.4" fill="#00ff00"/>
<circle cx="114.40" cy="402.10" r="1.4" fill="#00ff00"/>
<circle cx="121.40" cy="403.10" r="1.4" fill="#00ff00"/>
<circle cx="149.50" cy="401.80" r="1.4" fill="#00ff00"/>
<circle cx="104.00" cy="405.50" r="1.4" fill="#00ff00"/>
<circle cx="93.50" cy="408.50" r="1.4" fill="#00ff00"/>
<circle cx="107.70" cy="419.70" r="1.4" fill="#00ff00"/>
<circle cx="111.10" cy="418.00" r="1.4" fill="#00ff00"/>
<circle cx="100.70" cy="423.00" r="1.4" fill="#00ff00"/>
<circle cx="97.40" cy="432.60" r="1.4" fill="#00ff00"/>
<circle cx="142.50" cy="424.70" r="1.4" fill="#00ff00"/>
<circle cx="139.20" cy="450.50" r="1.4" fill="#00ff00"/>
<circle cx="160.20" cy="358.80" r="1.4" fill="#00ff00"/>
<circle cx="187.50" cy="374.70" r="1.4" fill="#00ff00"/>
<circle cx="156.90" cy="378.00" r="1.4" fill="#00ff00"/>
<circle cx="163.50" cy="382.00" r="1.4" fill="#00ff00"/>
<circle cx="180.80" cy="379.20" r="1.4" fill="#00ff00"/>
<circle cx="153.00" cy="387.60" r="1.4" fill="#00ff00"/>
<circle cx="191.50" cy="393.10" r="1.4" fill="#00ff00"/>
<circle cx="177.40" cy="398.40" r="1.4" fill="#00ff00"/>
<circle cx="194.80" cy="401.80" r="1.4" fill="#00ff00"/>
<circle cx="184.40" cy="404.80" r="1.4" fill="#00ff00"/>
<circle cx="202.00" cy="408.10" r="1.4" fill="#00ff00"/>
<circle cx="170.20" cy="412.60" r="1.4" fill="#00ff00"/>
<circle cx="166.90" cy="420.90" r="1.4" fill="#00ff00"/>
<circle cx="205.30" cy="432.00" r="1.4" fill="#00ff00"/>
<circle cx="198.30" cy="465.00" r="1.4" fill="#00ff00"/>
<circle cx="236.40" cy="357.60" r="1.4" fill="#00ff00"/>
<circle cx="225.90" cy="361.00" r="1.4" fill="#00ff00"/>
<circle cx="254.30" cy="377.00" r="1.4" fill="#00ff00"/>
<circle cx="250.50" cy="380.40" r="1.4" fill="#00ff00"/>
<circle cx="229.70" cy="380.90" r="1.4" fill="#00ff00"/>
<circle cx="240.10" cy="382.50" r="1.4" fill="#00ff00"/>
<circle cx="212.00" cy="392.10" r="1.4" fill="#00ff00"/>
<circle cx="243.80" cy="391.70" r="1.4" fill="#00ff00"/>
<circle cx="222.60" cy="400.40" r="1.4" fill="#00ff00"/>
<circle cx="215.90" cy="401.80" r="1.4" fill="#00ff00"/>
<circle cx="233.10" cy="414.80" r="1.4" fill="#00ff00"/>
<circle cx="247.10" cy="425.90" r="1.4" fill="#00ff00"/>
<circle cx="219.20" cy="435.10" r="1.4" fill="#00ff00"/>
<circle cx="34.00" cy="355.10" r="1.5" fill="none" stroke="#000000" stroke-width="0.98"/>
<circle cx="55.20" cy="363.10" r="1.5" fill="none" stroke="#000000" stroke-width="0.98"/>
<circle cx="44.70" cy="373.20" r="1.5" fill="none" stroke="#000000" stroke-width="0.98"/>
<circle cx="51.90" cy="380.90" r="1.5" fill="none" stroke="#000000" stroke-width="0.98"/>
<circle cx="37.70" cy="386.70" r="1.5" fill="none" stroke="#000000" stroke-width="0.98"/>
<circle cx="75.80" cy="388.10" r="1.5" fill="none" stroke="#000000" stroke-width="0.98"/>
<circle cx="89.50" cy="390.40" r="1.5" fill="none" stroke="#000000" stroke-width="0.98"/>
<circle cx="61.90" cy="405.50" r="1.5" fill="none" stroke="#000000" stroke-width="0.98"/>
<circle cx="72.50" cy="406.00" r="1.5" fill="none" stroke="#000000" stroke-width="0.98"/>
<circle cx="83.20" cy="405.50" r="1.5" fill="none" stroke="#000000" stroke-width="0.98"/>
<circle cx="48.10" cy="416.40" r="1.5" fill="none" stroke="#000000" stroke-width="0.98"/>
<circle cx="58.90" cy="417.20" r="1.5" fill="none" stroke="#000000" stroke-width="0.98"/>
<circle cx="69.10" cy="417.50" r="1.5" fill="none" stroke="#000000" stroke-width="0.98"/>
<circle cx="65.60" cy="422.00" r="1.5" fill="none" stroke="#000000" stroke-width="0.98"/>
<circle cx="79.50" cy="442.60" r="1.5" fill="none" stroke="#000000" stroke-width="0.98"/>
<circle cx="114.40" cy="359.80" r="1.5" fill="none" stroke="#000000" stroke-width="0.98"/>
<circle cx="97.60" cy="365.00" r="1.5" fill="none" stroke="#000000" stroke-width="0.98"/>
<circle cx="117.80" cy="371.80" r="1.5" fill="none" stroke="#000000" stroke-width="0.98"/>
<circle cx="121.40" cy="373.80" r="1.5" fill="none" stroke="#000000" stroke-width="0.98"/>
<circle cx="142.00" cy="366.00" r="1.5" fill="none" stroke="#000000" stroke-width="0.98"/>
<circle cx="145.80" cy="379.70" r="1.5" fill="none" stroke="#000000" stroke-width="0.98"/>
<circle cx="135.80" cy="383.70" r="1.5" fill="none" stroke="#000000" stroke-width="0.98"/>
<circle cx="139.20" cy="386.70" r="1.5" fill="none" stroke="#000000" stroke-width="0.98"/>
<circle cx="111.10" cy="385.90" r="1.5" fill="none" stroke="#000000" stroke-width="0.98"/>
<circle cx="100.70" cy="394.70" r="1.5" fill="none" stroke="#000000" stroke-width="0.98"/>
<circle cx="107.70" cy="399.80" r="1.5" fill="none" stroke="#000000" stroke-width="0.98"/>
<circle cx="104.00" cy="411.50" r="1.5" fill="none" stroke="#000000" stroke-width="0.98"/>
<circle cx="128.60" cy="412.10" r="1.5" fill="none" stroke="#000000" stroke-width="0.98"/>
<circle cx="132.00" cy="411.00" r="1.5" fill="none" stroke="#000000" stroke-width="0.98"/>
<circle cx="125.30" cy="446.50" r="1.5" fill="none" stroke="#000000" stroke-width="0.98"/>
<circle cx="149.90" cy="446.00" r="1.5" fill="none" stroke="#000000" stroke-width="0.98"/>
<circle cx="93.50" cy="480.10" r="1.5" fill="none" stroke="#000000" stroke-width="0.98"/>
<circle cx="156.40" cy="350.90" r="1.5" fill="none" stroke="#000000" stroke-width="0.98"/>
<circle cx="191.10" cy="349.80" r="1.5" fill="none" stroke="#000000" stroke-width="0.98"/>
<circle cx="170.70" cy="365.50" r="1.5" fill="none" stroke="#000000" stroke-width="0.98"/>
<circle cx="166.90" cy="367.70" r="1.5" fill="none" stroke="#000000" stroke-width="0.98"/>
<circle cx="153.00" cy="369.80" r="1.5" fill="none" stroke="#000000" stroke-width="0.98"/>
<circle cx="201.50" cy="371.80" r="1.5" fill="none" stroke="#000000" stroke-width="0.98"/>
<circle cx="160.20" cy="378.40" r="1.5" fill="none" stroke="#000000" stroke-width="0.98"/>
<circle cx="174.10" cy="380.40" r="1.5" fill="none" stroke="#000000" stroke-width="0.98"/>
<circle cx="163.50" cy="388.10" r="1.5" fill="none" stroke="#000000" stroke-width="0.98"/>
<circle cx="180.80" cy="387.60" r="1.5" fill="none" stroke="#000000" stroke-width="0.98"/>
<circle cx="184.40" cy="395.10" r="1.5" fill="none" stroke="#000000" stroke-width="0.98"/>
<circle cx="188.10" cy="395.90" r="1.5" fill="none" stroke="#000000" stroke-width="0.98"/>
<circle cx="198.20" cy="400.40" r="1.5" fill="none" stroke="#000000" stroke-width="0.98"/>
<circle cx="208.70" cy="398.80" r="1.5" fill="none" stroke="#000000" stroke-width="0.98"/>
<circle cx="177.40" cy="407.60" r="1.5" fill="none" stroke="#000000" stroke-width="0.98"/>
<circle cx="194.80" cy="432.10" r="1.5" fill="none" stroke="#000000" stroke-width="0.98"/>
<circle cx="205.30" cy="431.70" r="1.5" fill="none" stroke="#000000" stroke-width="0.98"/>
<circle cx="229.70" cy="358.80" r="1.5" fill="none" stroke="#000000" stroke-width="0.98"/>
<circle cx="212.00" cy="363.80" r="1.5" fill="none" stroke="#000000" stroke-width="0.98"/>
<circle cx="247.10" cy="364.80" r="1.5" fill="none" stroke="#000000" stroke-width="0.98"/>
<circle cx="240.10" cy="382.50" r="1.5" fill="none" stroke="#000000" stroke-width="0.98"/>
<circle cx="215.90" cy="393.40" r="1.5" fill="none" stroke="#000000" stroke-width="0.98"/>
<circle cx="219.20" cy="394.20" r="1.5" fill="none" stroke="#000000" stroke-width="0.98"/>
<circle cx="222.60" cy="391.40" r="1.5" fill="none" stroke="#000000" stroke-width="0.98"/>
<circle cx="225.90" cy="403.80" r="1.5" fill="none" stroke="#000000" stroke-width="0.98"/>
<circle cx="253.80" cy="416.40" r="1.5" fill="none" stroke="#000000" stroke-width="0.98"/>
<circle cx="243.80" cy="425.00" r="1.5" fill="none" stroke="#000000" stroke-width="0.98"/>
<circle cx="250.50" cy="427.60" r="1.5" fill="none" stroke="#000000" stroke-width="0.98"/>
<circle cx="236.80" cy="434.70" r="1.5" fill="none" stroke="#000000" stroke-width="0.98"/>
<circle cx="233.10" cy="448.80" r="1.5" fill="none" stroke="#000000" stroke-width="0.98"/>
<path d="M65.60 349.50L67.40 351.30L65.60 353.10L63.80 351.30Z" fill="none" stroke="#ffff00" stroke-width="1.0"/>
<path d="M69.50 370.40L71.30 372.20L69.50 374.00L67.70 372.20Z" fill="none" stroke="#ffff00" stroke-width="1.0"/>
<path d="M41.40 376.20L43.20 378.00L41.40 379.80L39.60 378.00Z" fill="none" stroke="#ffff00" stroke-width="1.0"/>
<path d="M48.10 376.60L49.90 378.40L48.10 380.20L46.30 378.40Z" fill="none" stroke="#ffff00" stroke-width="1.0"/>
<path d="M51.90 384.10L53.70 385.90L51.90 387.70L50.10 385.90Z" fill="none" stroke="#ffff00" stroke-width="1.0"/>
<path d="M72.50 380.70L74.30 382.50L72.50 384.30L70.70 382.50Z" fill="none" stroke="#ffff00" stroke-width="1.0"/>
<path d="M75.80 383.60L77.60 385.40L75.80 387.20L74.00 385.40Z" fill="none" stroke="#ffff00" stroke-width="1.0"/>
<path d="M79.50 393.30L81.30 395.10L79.50 396.90L77.70 395.10Z" fill="none" stroke="#ffff00" stroke-width="1.0"/>
<path d="M83.20 395.80L85.00 397.60L83.20 399.40L81.40 397.60Z" fill="none" stroke="#ffff00" stroke-width="1.0"/>
<path d="M55.20 400.00L57.00 401.80L55.20 403.60L53.40 401.80Z" fill="none" stroke="#ffff00" stroke-width="1.0"/>
<path d="M58.60 407.50L60.40 409.30L58.60 411.10L56.80 409.30Z" fill="none" stroke="#ffff00" stroke-width="1.0"/>
<path d="M61.90 417.40L63.70 419.20L61.90 421.00L60.10 419.20Z" fill="none" stroke="#ffff00" stroke-width="1.0"/>
<path d="M86.20 434.10L88.00 435.90L86.20 437.70L84.40 435.90Z" fill="none" stroke="#ffff00" stroke-width="1.0"/>
<path d="M34.00 442.50L35.80 444.30L34.00 446.10L32.20 444.30Z" fill="none" stroke="#ffff00" stroke-width="1.0"/>
<path d="M89.90 442.50L91.70 444.30L89.90 446.10L88.10 444.30Z" fill="none" stroke="#ffff00" stroke-width="1.0"/>
<path d="M44.70 453.00L46.50 454.80L44.70 456.60L42.90 454.80Z" fill="none" stroke="#ffff00" stroke-width="1.0"/>
<path d="M107.40 349.60L109.20 351.40L107.40 353.20L105.60 351.40Z" fill="none" stroke="#ffff00" stroke-width="1.0"/>
<path d="M100.70 354.20L102.50 356.00L100.70 357.80L98.90 356.00Z" fill="none" stroke="#ffff00" stroke-width="1.0"/>
<path d="M114.40 365.90L116.20 367.70L114.40 369.50L112.60 367.70Z" fill="none" stroke="#ffff00" stroke-width="1.0"/>
<path d="M135.30 363.70L137.10 365.50L135.30 367.30L133.50 365.50Z" fill="none" stroke="#ffff00" stroke-width="1.0"/>
<path d="M117.80 380.70L119.60 382.50L117.80 384.30L116.00 382.50Z" fill="none" stroke="#ffff00" stroke-width="1.0"/>
<path d="M97.40 381.90L99.20 383.70L97.40 385.50L95.60 383.70Z" fill="none" stroke="#ffff00" stroke-width="1.0"/>
<path d="M128.60 393.30L130.40 395.10L128.60 396.90L126.80 395.10Z" fill="none" stroke="#ffff00" stroke-width="1.0"/>
<path d="M139.20 401.60L141.00 403.40L139.20 405.20L137.40 403.40Z" fill="none" stroke="#ffff00" stroke-width="1.0"/>
<path d="M149.20 403.30L151.00 405.10L149.20 406.90L147.40 405.10Z" fill="none" stroke="#ffff00" stroke-width="1.0"/>
<path d="M121.40 410.80L123.20 412.60L121.40 414.40L119.60 412.60Z" fill="none" stroke="#ffff00" stroke-width="1.0"/>
<path d="M145.80 408.00L147.60 409.80L145.80 411.60L144.00 409.80Z" fill="none" stroke="#ffff00" stroke-width="1.0"/>
<path d="M93.50 414.90L95.30 416.70L93.50 418.50L91.70 416.70Z" fill="none" stroke="#ffff00" stroke-width="1.0"/>
<path d="M111.10 425.80L112.90 427.60L111.10 429.40L109.30 427.60Z" fill="none" stroke="#ffff00" stroke-width="1.0"/>
<path d="M125.30 420.70L127.10 422.50L125.30 424.30L123.50 422.50Z" fill="none" stroke="#ffff00" stroke-width="1.0"/>
<path d="M142.50 418.60L144.30 420.40L142.50 422.20L140.70 420.40Z" fill="none" stroke="#ffff00" stroke-width="1.0"/>
<path d="M104.00 447.50L105.80 449.30L104.00 451.10L102.20 449.30Z" fill="none" stroke="#ffff00" stroke-width="1.0"/>
<path d="M132.00 468.20L133.80 470.00L132.00 471.80L130.20 470.00Z" fill="none" stroke="#ffff00" stroke-width="1.0"/>
<path d="M174.10 355.00L175.90 356.80L174.10 358.60L172.30 356.80Z" fill="none" stroke="#ffff00" stroke-width="1.0"/>
<path d="M160.20 373.20L162.00 375.00L160.20 376.80L158.40 375.00Z" fill="none" stroke="#ffff00" stroke-width="1.0"/>
<path d="M163.50 378.60L165.30 380.40L163.50 382.20L161.70 380.40Z" fill="none" stroke="#ffff00" stroke-width="1.0"/>
<path d="M153.00 384.10L154.80 385.90L153.00 387.70L151.20 385.90Z" fill="none" stroke="#ffff00" stroke-width="1.0"/>
<path d="M166.90 388.60L168.70 390.40L166.90 392.20L165.10 390.40Z" fill="none" stroke="#ffff00" stroke-width="1.0"/>
<path d="M188.10 385.80L189.90 387.60L188.10 389.40L186.30 387.60Z" fill="none" stroke="#ffff00" stroke-width="1.0"/>
<path d="M194.80 392.90L196.60 394.70L194.80 396.50L193.00 394.70Z" fill="none" stroke="#ffff00" stroke-width="1.0"/>
<path d="M198.20 390.80L200.00 392.60L198.20 394.40L196.40 392.60Z" fill="none" stroke="#ffff00" stroke-width="1.0"/>
<path d="M208.70 386.60L210.50 388.40L208.70 390.20L206.90 388.40Z" fill="none" stroke="#ffff00" stroke-width="1.0"/>
<path d="M177.40 400.30L179.20 402.10L177.40 403.90L175.60 402.10Z" fill="none" stroke="#ffff00" stroke-width="1.0"/>
<path d="M184.40 398.30L186.20 400.10L184.40 401.90L182.60 400.10Z" fill="none" stroke="#ffff00" stroke-width="1.0"/>
<path d="M191.50 402.50L193.30 404.30L191.50 406.10L189.70 404.30Z" fill="none" stroke="#ffff00" stroke-width="1.0"/>
<path d="M208.70 400.80L210.50 402.60L208.70 404.40L206.90 402.60Z" fill="none" stroke="#ffff00" stroke-width="1.0"/>
<path d="M170.20 405.80L172.00 407.60L170.20 409.40L168.40 407.60Z" fill="none" stroke="#ffff00" stroke-width="1.0"/>
<path d="M180.80 442.50L182.60 444.30L180.80 446.10L179.00 444.30Z" fill="none" stroke="#ffff00" stroke-width="1.0"/>
<path d="M205.30 444.20L207.10 446.00L205.30 447.80L203.50 446.00Z" fill="none" stroke="#ffff00" stroke-width="1.0"/>
<path d="M156.40 471.30L158.20 473.10L156.40 474.90L154.60 473.10Z" fill="none" stroke="#ffff00" stroke-width="1.0"/>
<path d="M202.00 475.30L203.80 477.10L202.00 478.90L200.20 477.10Z" fill="none" stroke="#ffff00" stroke-width="1.0"/>
<path d="M225.90 347.50L227.70 349.30L225.90 351.10L224.10 349.30Z" fill="none" stroke="#ffff00" stroke-width="1.0"/>
<path d="M229.70 369.20L231.50 371.00L229.70 372.80L227.90 371.00Z" fill="none" stroke="#ffff00" stroke-width="1.0"/>
<path d="M219.20 384.40L221.00 386.20L219.20 388.00L217.40 386.20Z" fill="none" stroke="#ffff00" stroke-width="1.0"/>
<path d="M222.60 394.60L224.40 396.40L222.60 398.20L220.80 396.40Z" fill="none" stroke="#ffff00" stroke-width="1.0"/>
<path d="M233.10 391.90L234.90 393.70L233.10 395.50L231.30 393.70Z" fill="none" stroke="#ffff00" stroke-width="1.0"/>
<path d="M240.10 389.90L241.90 391.70L240.10 393.50L238.30 391.70Z" fill="none" stroke="#ffff00" stroke-width="1.0"/>
<path d="M254.30 404.70L256.10 406.50L254.30 408.30L252.50 406.50Z" fill="none" stroke="#ffff00" stroke-width="1.0"/>
<path d="M247.10 412.00L248.90 413.80L247.10 415.60L245.30 413.80Z" fill="none" stroke="#ffff00" stroke-width="1.0"/>
<path d="M236.40 414.60L238.20 416.40L236.40 418.20L234.60 416.40Z" fill="none" stroke="#ffff00" stroke-width="1.0"/>
<path d="M212.00 425.30L213.80 427.10L212.00 428.90L210.20 427.10Z" fill="none" stroke="#ffff00" stroke-width="1.0"/>
<path d="M250.50 447.50L252.30 449.30L250.50 451.10L248.70 449.30Z" fill="none" stroke="#ffff00" stroke-width="1.0"/>
<path d="M215.40 473.60L217.20 475.40L215.40 477.20L213.60 475.40Z" fill="none" stroke="#ffff00" stroke-width="1.0"/>
<path d="M243.80 479.60L245.60 481.40L243.80 483.20L242.00 481.40Z" fill="none" stroke="#ffff00" stroke-width="1.0"/>
<rect x="58.3" y="291" width="188.80" height="30.40" fill="#fff" stroke="#959595" stroke-width="1"/>
<circle cx="71.70" cy="296.90" r="1.5" fill="none" stroke="#0000ff" stroke-width="0.98"/>
<path d="M71.70 304.70L73.50 306.50L71.70 308.30L69.90 306.50Z" fill="none" stroke="#ff0000" stroke-width="1.0"/>
<circle cx="71.70" cy="316.10" r="1.4" fill="#ff00ff"/>
<circle cx="160.40" cy="296.90" r="1.4" fill="#00ff00"/>
<circle cx="160.40" cy="306.50" r="1.5" fill="none" stroke="#000000" stroke-width="0.98"/>
<path d="M160.40 314.30L162.20 316.10L160.40 317.90L158.60 316.10Z" fill="none" stroke="#ffff00" stroke-width="1.0"/>
</g>
<text x="0" y="0" font-size="8.4" text-anchor="end" transform="translate(24.70,248.50) scale(0.95,1)">1</text>
<text x="0" y="0" font-size="8.4" text-anchor="end" transform="translate(24.70,202.00) scale(0.95,1)">1.5</text>
<text x="0" y="0" font-size="8.4" text-anchor="end" transform="translate(24.70,155.50) scale(0.95,1)">2</text>
<text x="0" y="0" font-size="8.4" text-anchor="end" transform="translate(24.70,109.00) scale(0.95,1)">2.5</text>
<text x="0" y="0" font-size="8.4" text-anchor="end" transform="translate(24.70,62.50) scale(0.95,1)">3</text>
<text x="0" y="0" font-size="8.4" text-anchor="end" transform="translate(24.70,16.00) scale(0.95,1)">3.5</text>
<text x="0" y="0" font-size="8.4" text-anchor="middle" transform="translate(27.60,256.8) scale(0.95,1)">0</text>
<text x="0" y="0" font-size="8.4" text-anchor="middle" transform="translate(59.54,256.8) scale(0.95,1)">2</text>
<text x="0" y="0" font-size="8.4" text-anchor="middle" transform="translate(91.47,256.8) scale(0.95,1)">4</text>
<text x="0" y="0" font-size="8.4" text-anchor="middle" transform="translate(123.41,256.8) scale(0.95,1)">6</text>
<text x="0" y="0" font-size="8.4" text-anchor="middle" transform="translate(155.35,256.8) scale(0.95,1)">8</text>
<text x="89.88" y="268.80" font-size="8.5" text-anchor="middle" font-weight="normal" >Sample Segment</text>
<text x="91.47" y="10.40" font-size="8.95" text-anchor="middle" font-weight="bold" style="fill:#000">(a) EMD</text>
<text x="0" y="0" font-size="8.9" text-anchor="middle" transform="translate(10.0,129.3) rotate(-90)">DE</text>
<text x="0" y="0" font-size="8.4" text-anchor="end" transform="translate(193.20,248.50) scale(0.95,1)">1</text>
<text x="0" y="0" font-size="8.4" text-anchor="end" transform="translate(193.20,202.00) scale(0.95,1)">1.5</text>
<text x="0" y="0" font-size="8.4" text-anchor="end" transform="translate(193.20,155.50) scale(0.95,1)">2</text>
<text x="0" y="0" font-size="8.4" text-anchor="end" transform="translate(193.20,109.00) scale(0.95,1)">2.5</text>
<text x="0" y="0" font-size="8.4" text-anchor="end" transform="translate(193.20,62.50) scale(0.95,1)">3</text>
<text x="0" y="0" font-size="8.4" text-anchor="end" transform="translate(193.20,16.00) scale(0.95,1)">3.5</text>
<text x="0" y="0" font-size="8.4" text-anchor="middle" transform="translate(195.85,256.8) scale(0.95,1)">0</text>
<text x="0" y="0" font-size="8.4" text-anchor="middle" transform="translate(227.76,256.8) scale(0.95,1)">2</text>
<text x="0" y="0" font-size="8.4" text-anchor="middle" transform="translate(259.68,256.8) scale(0.95,1)">4</text>
<text x="0" y="0" font-size="8.4" text-anchor="middle" transform="translate(291.59,256.8) scale(0.95,1)">6</text>
<text x="0" y="0" font-size="8.4" text-anchor="middle" transform="translate(323.50,256.8) scale(0.95,1)">8</text>
<text x="259.57" y="268.80" font-size="8.85" text-anchor="middle" font-weight="normal" >Sample Segment</text>
<text x="259.68" y="10.40" font-size="8.95" text-anchor="middle" font-weight="bold" style="fill:#000">(b) VMD</text>
<text x="0" y="0" font-size="8.9" text-anchor="middle" transform="translate(178.0,129.3) rotate(-90)">DE</text>
<text x="336.3" y="79.20" font-size="7.6">u<tspan font-size="6" dy="3.6">1</tspan></text>
<text x="336.3" y="91.80" font-size="7.6">u<tspan font-size="6" dy="3.6">2</tspan></text>
<text x="336.3" y="104.40" font-size="7.6">u<tspan font-size="6" dy="3.6">3</tspan></text>
<text x="336.3" y="117.00" font-size="7.6">u<tspan font-size="6" dy="3.6">4</tspan></text>
<text x="336.3" y="129.60" font-size="7.6">u<tspan font-size="6" dy="3.6">5</tspan></text>
<text x="336.3" y="142.20" font-size="7.6">u<tspan font-size="6" dy="3.6">6</tspan></text>
<text x="336.3" y="154.80" font-size="7.6">u<tspan font-size="6" dy="3.6">7</tspan></text>
<text x="336.3" y="167.40" font-size="7.6">u<tspan font-size="6" dy="3.6">8</tspan></text>
<text x="336.5" y="179.40" font-size="7.2">Noise</text>
<text x="336.5" y="189.20" font-size="7.2">Signal</text>
<text x="0" y="0" font-size="7.8" text-anchor="end" transform="translate(27.2,526.20) scale(0.92,1)">3</text>
<text x="0" y="0" font-size="7.8" text-anchor="end" transform="translate(27.2,478.97) scale(0.92,1)">3.05</text>
<text x="0" y="0" font-size="7.8" text-anchor="end" transform="translate(27.2,431.74) scale(0.92,1)">3.1</text>
<text x="0" y="0" font-size="7.8" text-anchor="end" transform="translate(27.2,384.51) scale(0.92,1)">3.15</text>
<text x="0" y="0" font-size="7.8" text-anchor="end" transform="translate(27.2,337.28) scale(0.92,1)">3.2</text>
<text x="0" y="0" font-size="7.8" text-anchor="end" transform="translate(27.2,290.05) scale(0.92,1)">3.25</text>
<text x="0" y="0" font-size="7.8" text-anchor="middle" transform="translate(30.75,534.6) scale(0.92,1)">0</text>
<text x="0" y="0" font-size="7.8" text-anchor="middle" transform="translate(65.66,534.6) scale(0.92,1)">10</text>
<text x="0" y="0" font-size="7.8" text-anchor="middle" transform="translate(100.56,534.6) scale(0.92,1)">20</text>
<text x="0" y="0" font-size="7.8" text-anchor="middle" transform="translate(135.47,534.6) scale(0.92,1)">30</text>
<text x="0" y="0" font-size="7.8" text-anchor="middle" transform="translate(170.38,534.6) scale(0.92,1)">40</text>
<text x="0" y="0" font-size="7.8" text-anchor="middle" transform="translate(205.29,534.6) scale(0.92,1)">50</text>
<text x="0" y="0" font-size="7.8" text-anchor="middle" transform="translate(240.19,534.6) scale(0.92,1)">60</text>
<text x="0" y="0" font-size="7.8" text-anchor="middle" transform="translate(275.10,534.6) scale(0.92,1)">70</text>
<text x="152.90" y="545.70" font-size="8.2" text-anchor="middle" font-weight="normal" >Sample Segment</text>
<text x="152.80" y="284.20" font-size="8.17" text-anchor="middle" font-weight="bold" style="fill:#000">(c) Noise Source</text>
<text x="0" y="0" font-size="8" text-anchor="middle" transform="translate(9.1,405.0) rotate(-90)">DE</text>
<text x="0" y="0" font-size="7.9" transform="translate(86.8,299.50) scale(0.965,1)" style="white-space:pre" xml:space="preserve">AWGN -5dB</text>
<text x="0" y="0" font-size="7.9" transform="translate(86.8,309.10) scale(0.965,1)" style="white-space:pre" xml:space="preserve">AWGN 10dB</text>
<text x="0" y="0" font-size="7.9" transform="translate(86.8,318.70) scale(0.965,1)" style="white-space:pre" xml:space="preserve">AWGN 0dB,  DSI</text>
<text x="0" y="0" font-size="7.9" transform="translate(175.5,299.50) scale(0.965,1)" style="white-space:pre" xml:space="preserve">AWGN 0dB</text>
<text x="0" y="0" font-size="7.9" transform="translate(175.5,309.10) scale(0.965,1)" style="white-space:pre" xml:space="preserve">AWGN 20dB</text>
<text x="0" y="0" font-size="7.9" transform="translate(175.5,318.70) scale(0.965,1)" style="white-space:pre" xml:space="preserve">AWGN 0dB,  DSI, 1/f</text>
</svg></body></html>
